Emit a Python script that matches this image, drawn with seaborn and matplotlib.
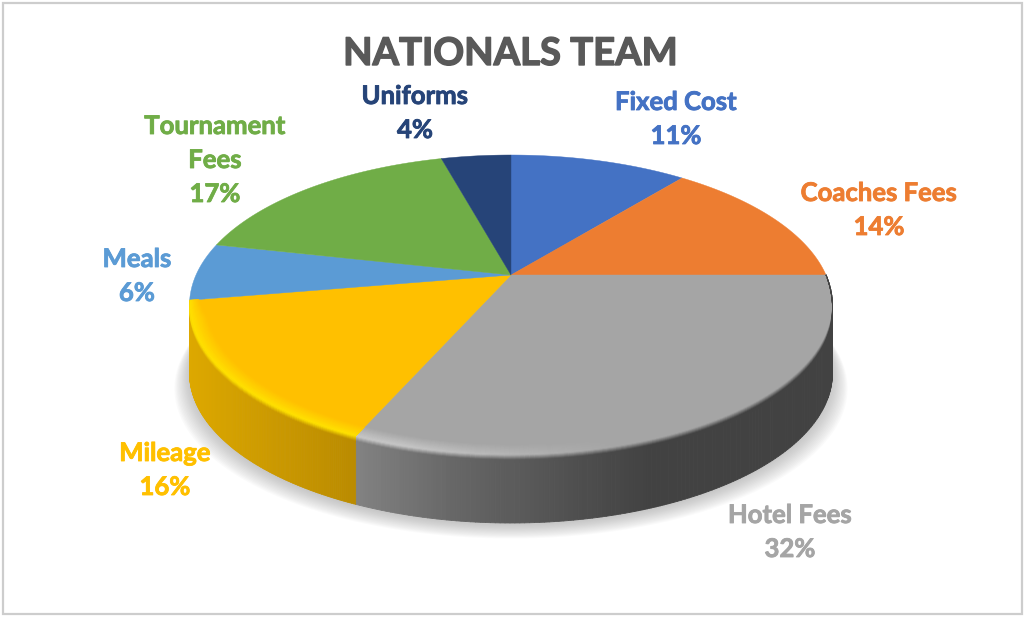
import numpy as np
import matplotlib
matplotlib.use("Agg")
import matplotlib.pyplot as plt
import matplotlib.patheffects as pe
from matplotlib.collections import PolyCollection
from matplotlib.colors import to_rgb
from matplotlib.patches import Rectangle
import seaborn as sns

# data
categories = ["Fixed Cost", "Coaches Fees", "Hotel Fees", "Mileage", "Meals", "Tournament\nFees", "Uniforms"]
shares = [10.8, 14.2, 31.6, 15.7, 6.2, 17.25, 4.25]
slice_hex = ["#4472C4", "#ED7D31", "#A5A5A5", "#FFC000", "#5B9BD5", "#70AD47", "#264478"]
title = "NATIONALS TEAM"

# where each label sits, in pixels
label_xy = [(676, 119), (879, 210), (790, 532), (165, 470), (137, 276), (215, 160), (415, 113)]

# perspective of the tilted disc
cx, cy = 511, 275
rx, ry, tilt = 315, 144, 0.2
depth = 68

sns.set_theme(style="white")
plt.rcParams["font.family"] = ["Lato", "DejaVu Sans"]
palette = sns.color_palette(slice_hex)


def project(theta_deg, r=1.0):
    # theta is the usual pie angle, counted from the +x axis
    t = np.radians(theta_deg)
    u, v = r * np.cos(t), r * np.sin(t)
    w = 1 + tilt * v
    return cx + rx * u / w, cy - ry * v / w


def mix(a, b, f):
    a, b = np.array(to_rgb(a)), np.array(to_rgb(b))
    return tuple(a + (b - a) * np.clip(f, 0, 1))


def wall_colour(name, x):
    if name == "Hotel Fees":
        return tuple(np.interp(x, [357, 450, 560, 650, 832], [c1, c2, c3, c4, c4]) for c1, c2, c3, c4 in
                     zip(to_rgb("#828282"), to_rgb("#686868"), to_rgb("#525252"), to_rgb("#424242")))
    return mix("#DDA800", "#BA8B00", (x - 190) / 167)


def bevel_point(theta, b):
    # above the rim the bevel runs along the radius so it meets the slice edges,
    # below the rim it drops straight down onto the wall
    taper = np.clip(-np.sin(np.radians(theta)) / 0.3, 0, 1)
    if b < 0:
        return project(theta, 1 + b / 225 * taper)
    x, y = project(theta)
    return x, y + b * taper


fig = plt.figure(figsize=(10.24, 6.17), dpi=100)
ax = fig.add_axes([0, 0, 1, 1])

wedges, _ = ax.pie(shares, colors=palette, startangle=90, counterclock=False)
spans = [(w.theta1, w.theta2) for w in wedges]
for w in wedges:
    w.remove()

ax.set_aspect("auto")
ax.set_xlim(0, 1024)
ax.set_ylim(617, 0)
ax.axis("off")

# soft shadow under the body
ring = np.linspace(0, 360, 361)
xs, ys = project(ring)
for grow in np.linspace(15, 0, 14):
    sx = cx + (xs - cx) * (1 + grow / 320)
    sy = ys + depth + 2 + grow * 0.9
    ax.fill(sx, sy, color="#808080", alpha=0.035, lw=0, zorder=1)

# side wall of the front slices
for (t1, t2), name in zip(spans, categories):
    if name not in ("Hotel Fees", "Mileage"):
        continue
    th = np.linspace(t1, t2, 160)
    x, y = project(th)
    polys, cols = [], []
    for i in range(len(th) - 1):
        polys.append([(x[i], y[i]), (x[i + 1], y[i + 1]), (x[i + 1], y[i + 1] + depth), (x[i], y[i] + depth)])
        cols.append(wall_colour(name, (x[i] + x[i + 1]) / 2))
    ax.add_collection(PolyCollection(polys, facecolors=cols, edgecolors=cols, linewidths=0.6, zorder=2))

# darker lip along the bottom edge of the wall
th = np.linspace(spans[2][0], spans[3][1], 300)
x, y = project(th)
ax.plot(x, y + depth - 0.5, color="#333333", lw=0.8, alpha=0.55, zorder=3)

# top faces
for (t1, t2), c in zip(spans, palette):
    th = np.linspace(t1, t2, 200)
    x, y = project(th)
    ax.fill(np.r_[cx, x], np.r_[cy, y], color=c, lw=0.3, zorder=4)

# rounded bevel between top face and wall
band = np.linspace(-11, 7, 19)
for (t1, t2), name, c in zip(spans, categories, slice_hex):
    if name not in ("Hotel Fees", "Mileage"):
        continue
    th = np.linspace(t1, t2, 160)
    x, y = project(th)
    polys, cols = [], []
    for i in range(len(th) - 1):
        xm = (x[i] + x[i + 1]) / 2
        wall = wall_colour(name, xm)
        if name == "Mileage":
            glow = "#FFE100"
            amount = 1.0
        else:
            glow = "#C8C8C8"
            amount = np.clip((620 - xm) / 220, 0, 1)
        for j in range(len(band) - 1):
            b = (band[j] + band[j + 1]) / 2
            if b < 0:
                col = mix(c, mix(c, glow, amount), (b + 11) / 11)
            else:
                col = mix(mix(c, glow, amount), wall, b / 5)
            polys.append([bevel_point(th[i], band[j]), bevel_point(th[i + 1], band[j]),
                          bevel_point(th[i + 1], band[j + 1]), bevel_point(th[i], band[j + 1])])
            cols.append(col)
    ax.add_collection(PolyCollection(polys, facecolors=cols, edgecolors=cols, linewidths=0.5, zorder=5))

# chart frame
ax.add_patch(Rectangle((2.5, 2.5), 1019, 611, fill=False, ec="#CDCDCD", lw=1.6, zorder=6))

t = ax.text(511, 54, title, ha="center", va="center", fontsize=27.5, fontweight="bold", color="#595959", zorder=7)
t.set_path_effects([pe.withStroke(linewidth=1.0, foreground="#595959")])
for name, share, col, (lx, ly) in zip(categories, shares, slice_hex, label_xy):
    t = ax.text(lx, ly, f"{name}\n{round(share)}%", ha="center", va="center", fontsize=18.5, fontweight="bold",
                color=col, linespacing=1.5, zorder=7)
    t.set_path_effects([pe.withStroke(linewidth=0.6, foreground=col)])

fig.savefig("out.png", dpi=100)
